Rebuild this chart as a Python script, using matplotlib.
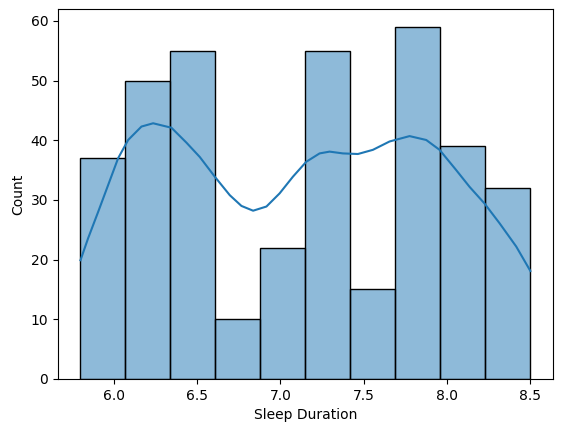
import matplotlib
matplotlib.use("Agg")
import matplotlib.pyplot as plt

# histogram of sleep duration, 10 bins between 5.8 and 8.5
bin_edges = [5.8, 6.07, 6.34, 6.61, 6.88, 7.15, 7.42, 7.69, 7.96, 8.23, 8.5]
counts = [37, 50, 55, 10, 22, 55, 15, 59, 39, 32]

# kde curve (already scaled to counts)
kde_x = [5.80, 5.846, 5.906, 5.966, 6.026, 6.086, 6.166, 6.236, 6.346, 6.436,
         6.516, 6.606, 6.696, 6.766, 6.836, 6.916, 6.995, 7.075, 7.155, 7.235,
         7.295, 7.375, 7.465, 7.555, 7.655, 7.775, 7.875, 7.955, 8.055, 8.135,
         8.225, 8.315, 8.415, 8.50]
kde_y = [19.9, 23.6, 28.0, 32.5, 37.0, 40.05, 42.3, 42.85, 42.1, 39.6,
         37.2, 33.9, 30.8, 29.0, 28.2, 28.9, 31.1, 33.9, 36.4, 37.8,
         38.1, 37.8, 37.7, 38.4, 39.8, 40.7, 40.05, 38.4, 35.0, 32.2,
         29.4, 26.1, 22.2, 18.1]

fig, ax = plt.subplots(figsize=(5.63, 4.32), dpi=100)
fig.subplots_adjust(left=0.103, right=0.982, bottom=0.1227, top=0.9785)

widths = [bin_edges[i + 1] - bin_edges[i] for i in range(len(counts))]
ax.bar(bin_edges[:-1], counts, width=widths, align='edge',
       facecolor=(0.1216, 0.4667, 0.7059, 0.5), edgecolor='black', linewidth=1)
ax.plot(kde_x, kde_y, color='#1f77b4', linewidth=1.5, solid_joinstyle='round')

ax.set_xlim(5.665, 8.635)
ax.set_ylim(0, 61.95)
ax.set_xticks([6.0, 6.5, 7.0, 7.5, 8.0, 8.5])
ax.set_yticks([0, 10, 20, 30, 40, 50, 60])
ax.set_xlabel('Sleep Duration')
ax.set_ylabel('Count')

fig.savefig('out.png', dpi=100)
